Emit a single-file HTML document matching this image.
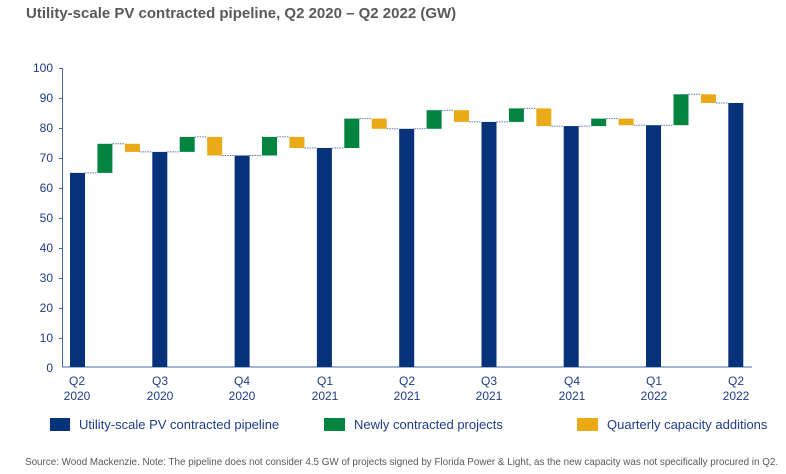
<!DOCTYPE html>
<html><head><meta charset="utf-8"><style>
html,body{margin:0;padding:0;background:#fff}
svg{display:block;font-family:"Liberation Sans",Arial,sans-serif}
</style></head><body>
<svg width="786" height="474" viewBox="0 0 786 474" xmlns="http://www.w3.org/2000/svg">
<text x="26" y="18" font-size="15" font-weight="bold" fill="#595959">Utility-scale PV contracted pipeline, Q2 2020 – Q2 2022 (GW)</text>
<g font-size="12" fill="#1f3c88" text-anchor="end">
<text x="53" y="72">100</text><text x="53" y="102">90</text><text x="53" y="132">80</text><text x="53" y="162">70</text><text x="53" y="192">60</text><text x="53" y="222">50</text><text x="53" y="252">40</text><text x="53" y="282">30</text><text x="53" y="312">20</text><text x="53" y="342">10</text><text x="53" y="372">0</text>
</g>
<g stroke="#4a69a8" stroke-width="1">
<line x1="62.5" y1="68" x2="62.5" y2="367"/>
<line x1="62" y1="367" x2="752" y2="367"/>
<line x1="59" y1="68.5" x2="63" y2="68.5"/><line x1="59" y1="98.5" x2="63" y2="98.5"/><line x1="59" y1="128.5" x2="63" y2="128.5"/><line x1="59" y1="158.5" x2="63" y2="158.5"/><line x1="59" y1="188.5" x2="63" y2="188.5"/><line x1="59" y1="218.5" x2="63" y2="218.5"/><line x1="59" y1="248.5" x2="63" y2="248.5"/><line x1="59" y1="278.5" x2="63" y2="278.5"/><line x1="59" y1="308.5" x2="63" y2="308.5"/><line x1="59" y1="338.5" x2="63" y2="338.5"/>
</g>
<g fill="#06327a">
<rect x="70" y="172.9" width="15" height="194.1"/>
<rect x="152.3" y="151.9" width="15" height="215.1"/>
<rect x="234.6" y="155.5" width="15" height="211.5"/>
<rect x="316.9" y="148" width="15" height="219"/>
<rect x="399.2" y="128.8" width="15" height="238.2"/>
<rect x="481.5" y="121.9" width="15" height="245.1"/>
<rect x="563.7" y="126.1" width="15" height="240.9"/>
<rect x="646" y="125.2" width="15" height="241.8"/>
<rect x="728.3" y="103" width="15" height="264"/>
</g>
<g fill="#00843f">
<rect x="97.4" y="143.8" width="15" height="29.1"/>
<rect x="179.7" y="136.9" width="15" height="15"/>
<rect x="262" y="136.9" width="15" height="18.6"/>
<rect x="344.3" y="118.6" width="15" height="29.4"/>
<rect x="426.6" y="110.2" width="15" height="18.6"/>
<rect x="508.9" y="108.4" width="15" height="13.5"/>
<rect x="591.2" y="118.6" width="15" height="7.5"/>
<rect x="673.5" y="94.3" width="15" height="30.9"/>
</g>
<g fill="#eaa916">
<rect x="124.9" y="143.8" width="15" height="8.1"/>
<rect x="207.2" y="136.9" width="15" height="18.6"/>
<rect x="289.4" y="136.9" width="15" height="11.1"/>
<rect x="371.7" y="118.6" width="15" height="10.2"/>
<rect x="454" y="110.2" width="15" height="11.7"/>
<rect x="536.3" y="108.4" width="15" height="17.7"/>
<rect x="618.6" y="118.6" width="15" height="6.6"/>
<rect x="700.9" y="94.3" width="15" height="8.7"/>
</g>
<g stroke="#5b78b0" stroke-width="1" stroke-dasharray="1.5,1">
<line x1="85" y1="172.9" x2="97.4" y2="172.9"/>
<line x1="112.4" y1="143.8" x2="124.9" y2="143.8"/>
<line x1="139.9" y1="151.9" x2="152.3" y2="151.9"/>
<line x1="167.3" y1="151.9" x2="179.7" y2="151.9"/>
<line x1="194.7" y1="136.9" x2="207.2" y2="136.9"/>
<line x1="222.2" y1="155.5" x2="234.6" y2="155.5"/>
<line x1="249.6" y1="155.5" x2="262" y2="155.5"/>
<line x1="277" y1="136.9" x2="289.4" y2="136.9"/>
<line x1="304.4" y1="148" x2="316.9" y2="148"/>
<line x1="331.9" y1="148" x2="344.3" y2="148"/>
<line x1="359.3" y1="118.6" x2="371.7" y2="118.6"/>
<line x1="386.7" y1="128.8" x2="399.2" y2="128.8"/>
<line x1="414.2" y1="128.8" x2="426.6" y2="128.8"/>
<line x1="441.6" y1="110.2" x2="454" y2="110.2"/>
<line x1="469" y1="121.9" x2="481.5" y2="121.9"/>
<line x1="496.5" y1="121.9" x2="508.9" y2="121.9"/>
<line x1="523.9" y1="108.4" x2="536.3" y2="108.4"/>
<line x1="551.3" y1="126.1" x2="563.7" y2="126.1"/>
<line x1="578.7" y1="126.1" x2="591.2" y2="126.1"/>
<line x1="606.2" y1="118.6" x2="618.6" y2="118.6"/>
<line x1="633.6" y1="125.2" x2="646" y2="125.2"/>
<line x1="661" y1="125.2" x2="673.5" y2="125.2"/>
<line x1="688.5" y1="94.3" x2="700.9" y2="94.3"/>
<line x1="715.9" y1="103" x2="728.3" y2="103"/>
</g>
<g font-size="12" fill="#1f3c88" text-anchor="middle">
<text x="77" y="385">Q2</text><text x="77" y="400">2020</text>
<text x="160" y="385">Q3</text><text x="160" y="400">2020</text>
<text x="242" y="385">Q4</text><text x="242" y="400">2020</text>
<text x="325" y="385">Q1</text><text x="325" y="400">2021</text>
<text x="407" y="385">Q2</text><text x="407" y="400">2021</text>
<text x="489" y="385">Q3</text><text x="489" y="400">2021</text>
<text x="572" y="385">Q4</text><text x="572" y="400">2021</text>
<text x="654" y="385">Q1</text><text x="654" y="400">2022</text>
<text x="736" y="385">Q2</text><text x="736" y="400">2022</text>
</g>
<rect x="50" y="418" width="20" height="13" fill="#06327a"/>
<text x="79" y="429" font-size="13" fill="#1f3c88">Utility-scale PV contracted pipeline</text>
<rect x="324" y="418" width="21" height="13" fill="#00843f"/>
<text x="354" y="429" font-size="13" fill="#1f3c88">Newly contracted projects</text>
<rect x="577" y="418" width="21" height="13" fill="#eaa916"/>
<text x="607" y="429" font-size="13" fill="#1f3c88">Quarterly capacity additions</text>
<text x="25" y="465" font-size="9.85" fill="#595959">Source: Wood Mackenzie. Note: The pipeline does not consider 4.5 GW of projects signed by Florida Power &amp; Light, as the new capacity was not specifically procured in Q2.</text>
</svg>
</body></html>
